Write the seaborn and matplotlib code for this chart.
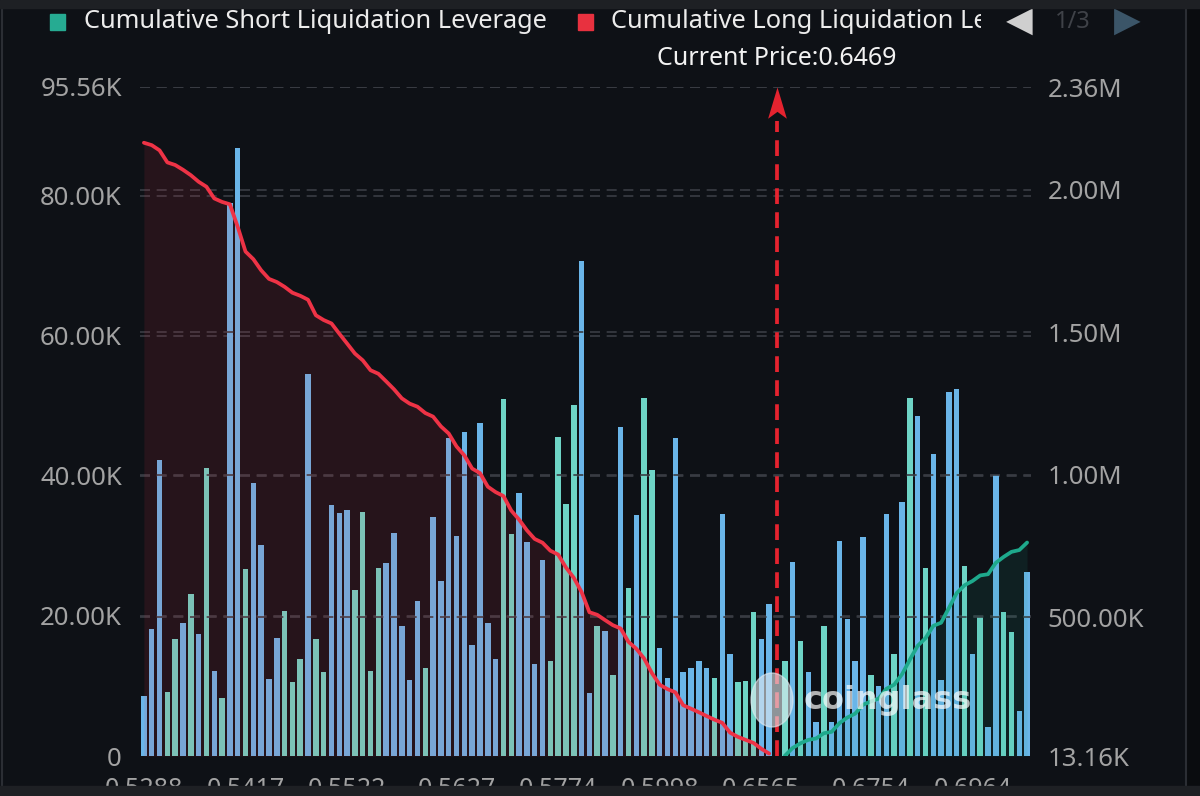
import numpy as np
import pandas as pd
import matplotlib
matplotlib.use("Agg")
import matplotlib.pyplot as plt
import seaborn as sns
from matplotlib.path import Path
from matplotlib.patches import Rectangle, Ellipse
from matplotlib.transforms import Bbox, TransformedBbox

# liquidation leverage per price bin (K) below the current price -> long side
long_liq = [8.5, 18.2, 42.3, 9.1, 16.7, 19.0, 23.1, 17.4, 41.1, 12.2,
            8.3, 79.0, 86.8, 26.7, 39.0, 30.2, 11.0, 16.9, 20.7, 10.6,
            13.9, 54.6, 16.7, 12.0, 35.8, 34.7, 35.1, 23.7, 34.9, 12.2,
            26.9, 27.6, 31.8, 18.5, 10.8, 22.2, 12.6, 34.2, 25.0, 45.4,
            31.4, 46.3, 15.8, 47.6, 19.0, 13.8, 51.0, 31.7, 37.5, 30.5,
            13.1, 28.0, 13.5, 45.5, 36.0, 50.2, 70.7, 9.0, 18.5, 17.9,
            11.6, 47.0, 24.0, 34.4, 51.2, 40.8, 15.4, 11.1, 45.4, 12.0,
            12.5, 13.5, 12.6, 11.1, 34.6, 14.6, 10.6, 10.7, 20.6, 16.7,
            21.7]
# above the current price -> short side
short_liq = [13.6, 27.7, 16.4, 12.0, 4.9, 18.5, 4.9, 30.7, 19.5, 13.5,
             31.3, 11.5, 10.0, 34.5, 14.6, 36.3, 51.2, 48.6, 26.9, 43.2,
             10.9, 52.0, 52.4, 27.1, 14.6, 19.8, 4.2, 40.2, 20.6, 17.7,
             6.4, 26.3]
# dominant leverage tier of each bar (b / t)
long_tier = list("bbbttbtbtb" "tbbtbbbbtt" "tbttbbbttt" "tbbbbbtbbb" "bbbbbbttbb"
                 "bbttttbbtb" "tbtbttbbbb" "bbbtbbtttb" "b")
short_tier = list("tbtbbtbbbb" "btbbtbtbtb" "bbbtbtbbtt" "bb")

tick_slots = [0, 13, 26, 40, 53, 66, 79, 93, 106]
tick_labels = ["0.5288", "0.5417", "0.5522", "0.5627", "0.5774",
               "0.5998", "0.6565", "0.6754", "0.6964"]
left_ticks = [0, 20000, 40000, 60000, 80000, 95560]
left_labels = ["0", "20.00K", "40.00K", "60.00K", "80.00K", "95.56K"]
right_ticks = [13160, 500000, 1000000, 1500000, 2000000, 2360000]
right_labels = ["13.16K", "500.00K", "1.00M", "1.50M", "2.00M", "2.36M"]
current_price = "0.6469"

BG = "#0e1116"
BLUE = "#6ab5e8"
TEAL = "#6ed4c6"
RED = "#ee3346"
GREEN = "#1ea98c"
GRID = "#3a3d44"
TXT = "#a3a3a3"

sns.set_style("dark")
plt.rcParams['font.family'] = ['Noto Sans', 'DejaVu Sans']

n_long = len(long_liq)
price_slot = n_long  # empty bin where the current price sits
values = [v * 1000 for v in long_liq] + [0] + [v * 1000 for v in short_liq]
tiers = long_tier + ["b"] + short_tier
df = pd.DataFrame({"slot": range(len(values)), "value": values, "tier": tiers})
n = len(df)

fig = plt.figure(figsize=(12, 7.96), dpi=100, facecolor=BG)
ax = fig.add_axes([140 / 1200, 1 - 756 / 796, 891 / 1200, 669 / 796])
ax.set_facecolor(BG)

sns.barplot(data=df, x="slot", y="value", hue="tier", order=list(range(n)),
            hue_order=["b", "t"], palette={"b": BLUE, "t": TEAL}, dodge=False,
            width=0.7, saturation=1, linewidth=0, errorbar=None, legend=False, ax=ax)

ax.set_xlim(-0.5, n - 0.5)
ax.set_ylim(0, left_ticks[-1])
ax.set_xlabel("")
ax.set_ylabel("")
ax.set_xticks(tick_slots, tick_labels)
ax.set_yticks(left_ticks, left_labels)
ax.tick_params(axis="x", colors=TXT, labelsize=18, length=5, width=1, pad=10, color="#25282e")
ax.tick_params(axis="y", colors=TXT, labelsize=18.5, length=0, pad=13)
ax.grid(False)
for s in ax.spines.values():
    s.set_visible(False)
for t in left_ticks[1:]:
    ax.axhline(t, color=GRID, lw=1.2, dashes=(6, 4), zorder=0.5)

ax2 = ax.twinx()
ax2.set_ylim(right_ticks[0], right_ticks[-1])
ax2.set_yticks(right_ticks, right_labels)
ax2.tick_params(axis="y", colors=TXT, labelsize=18.5, length=0, pad=12)
ax2.grid(False)
for s in ax2.spines.values():
    s.set_visible(False)
for t in right_ticks[1:]:
    ax2.axhline(t, color=GRID, lw=1.2, dashes=(6, 4), zorder=0.5)

# cumulative leverage away from the current price
cum_long = pd.Series(long_liq[::-1]).cumsum()[::-1].to_numpy() * 1000
cum_short = pd.Series(short_liq).cumsum().to_numpy() * 1000
x_long = np.arange(n_long)
x_short = np.arange(price_slot + 1, n)
ax2.fill_between(x_long, cum_long, right_ticks[0], color=RED, alpha=0.11, lw=0)
ax2.fill_between(x_short, cum_short, right_ticks[0], color=GREEN, alpha=0.1, lw=0)
ax2.plot(x_long, cum_long, color=RED, lw=2.7, solid_capstyle="round", solid_joinstyle="round")
ax2.plot(x_short, cum_short, color=GREEN, lw=2.7, solid_capstyle="round", solid_joinstyle="round")

# current price marker
ax2.plot([price_slot, price_slot], [right_ticks[0], right_ticks[-1] * 0.95],
         color="#e5232f", lw=2.7, dashes=(4.2, 2.2))
arrow = Path([(0, 0), (0.3, -1), (0, -0.78), (-0.3, -1), (0, 0)],
             [Path.MOVETO, Path.LINETO, Path.LINETO, Path.LINETO, Path.CLOSEPOLY])
ax2.plot([price_slot], [right_ticks[-1]], marker=arrow, ms=45, color="#e5232f",
         mec="none", clip_on=False)
ax2.text(price_slot, 1.042, "Current Price:" + current_price, transform=ax2.get_xaxis_transform(),
         ha="center", va="center", color="#f2f2f2", fontsize=18)

# watermark
fig.patches.append(Ellipse((772 / 1200, 1 - 700 / 796), 42 / 1200, 54 / 796,
                           transform=fig.transFigure, color="#e4ecf2", alpha=0.6, zorder=5))
fig.text(888 / 1200, 1 - 700 / 796, "coinglass", ha="center", va="center", fontsize=23,
         fontweight="bold", family="DejaVu Sans", color="white", alpha=0.68, zorder=6)

# frame bands
fig.patches.append(Rectangle((0, 1 - 8 / 796), 1, 8 / 796, transform=fig.transFigure,
                             color="#1e2024", zorder=10))
fig.patches.append(Rectangle((0, 0), 1, 10 / 796, transform=fig.transFigure,
                             color="#1e2024", zorder=10))
fig.patches.append(Rectangle((1186 / 1200, 10 / 796), 14 / 1200, 778 / 796,
                             transform=fig.transFigure, color="#0a0c0f", zorder=9))
fig.lines.append(plt.Line2D([1186 / 1200, 1186 / 1200], [10 / 796, 1 - 8 / 796],
                            transform=fig.transFigure, color="#2b2e34", lw=1.5, zorder=10))
fig.lines.append(plt.Line2D([2 / 1200, 2 / 1200], [10 / 796, 1 - 8 / 796],
                            transform=fig.transFigure, color="#2b2e34", lw=1.5, zorder=10))

# legend
ly = 1 - 22 / 796
fig.patches.append(Rectangle((50 / 1200, 1 - 30 / 796), 15 / 1200, 16 / 796,
                             transform=fig.transFigure, color="#26ab92", zorder=6))
fig.text(84 / 1200, ly, "Cumulative Short Liquidation Leverage", ha="left", va="center",
         fontsize=18.3, color="#ececec")
fig.patches.append(Rectangle((578 / 1200, 1 - 30 / 796), 15 / 1200, 16 / 796,
                             transform=fig.transFigure, color="#e8313f", zorder=6))
lt = fig.text(611 / 1200, ly, "Cumulative Long Liquidation Le", ha="left", va="center",
              fontsize=18.3, color="#ececec")
lt.set_clip_box(TransformedBbox(Bbox.from_extents(0, 0, 981 / 1200, 1), fig.transFigure))
lt.set_clip_on(True)
fig.text(1019 / 1200, ly, "\u25C0", ha="center", va="center", fontsize=25, color="#cfcfcf")
fig.text(1073 / 1200, ly, "1/3", ha="center", va="center", fontsize=17, color="#3f4248")
fig.text(1127 / 1200, ly, "\u25B6", ha="center", va="center", fontsize=25, color="#3b5568")

fig.savefig("out.png", dpi=100, facecolor=BG)
